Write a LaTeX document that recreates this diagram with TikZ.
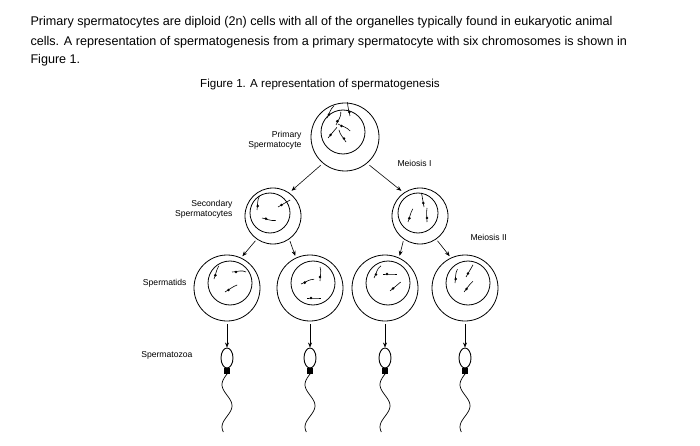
\documentclass[tikz,border=0pt]{standalone}
\usepackage{fontspec}
\setmainfont{Liberation Sans}
\usetikzlibrary{shapes.geometric,arrows.meta}
\begin{document}
\begin{tikzpicture}[x=1pt,y=-1pt,
 outer/.style={circle,draw,line width=0.8pt,inner sep=0},
 inner/.style={circle,draw,line width=0.8pt,inner sep=0,minimum size=#1},
 arr/.style={-{Stealth[length=5pt,width=4pt]},line width=0.6pt},
 lab/.style={font=\fontsize{8.6}{9.6}\selectfont,align=right},
 body/.style={font=\fontsize{12.6}{14}\selectfont,anchor=west},
 head/.style={ellipse,draw,line width=0.9pt,minimum width=12pt,minimum height=20pt,inner sep=0},
 chr/.style={line width=0.6pt}]
\useasboundingbox (0,0) rectangle (700,446);
\newcommand{\chro}[4]{\draw[chr] (#1,#2) .. controls +(#3:5) and +(#3+180+#4:5) .. +(#3:14); \fill (#1,#2)++(#3:4) circle (1.4);}
\node[body] (t1) at (27,22) {Primary spermatocytes are diploid (2n) cells with all of the organelles typically found in eukaryotic animal};
\node[body] (t2) at (27,42) {cells. A representation of spermatogenesis from a primary spermatocyte with six chromosomes is shown in};
\node[body] (t3) at (27,60) {Figure 1.};
\node[font=\fontsize{11.6}{13}\selectfont] (cap) at (320,85) {Figure 1. A representation of spermatogenesis};
% cells
\node[outer,minimum size=68pt] (p) at (345,137) {};
\node[inner=44pt] (pi) at (343,132) {};
\node[outer,minimum size=56pt] (sL) at (273,216) {};
\node[inner=40pt] (sLi) at (270,213) {};
\node[outer,minimum size=56pt] (sR) at (420,216) {};
\node[inner=40pt] (sRi) at (418,213) {};
\foreach \n/\xx in {a/227,b/310,c/385,d/465}{
 \node[outer,minimum size=66pt] (t\n) at (\xx,288) {};
 \node[inner=44pt] (t\n i) at (\xx+3,283) {};
 \node[head] (h\n) at (\xx,358) {};
 \node[fill,minimum width=6pt,minimum height=6pt,inner sep=0] (m\n) at (\xx,371) {};
 \draw[line width=0.7pt] plot[variable=\t,domain=0:58,smooth,samples=40] ({\xx-5*sin(\t*8.5)},{374+\t});
 \draw[arr] (t\n.south) ++(0,3) -- (h\n.north);
}
% chromosomes
\chro{327}{118}{-60}{20}\chro{336}{125}{-70}{-30}\chro{350}{116}{-100}{10}\chro{328}{138}{-50}{0}\chro{346}{142}{-120}{20}\chro{338}{124}{30}{20}
\chro{257}{210}{-80}{20}\chro{262}{218}{10}{-20}\chro{278}{207}{-30}{0}
\chro{408}{222}{-70}{10}\chro{424}{207}{-100}{0}\chro{427}{222}{-90}{10}
\chro{214}{279}{-70}{10}\chro{232}{272}{0}{30}\chro{225}{292}{-30}{10}
\chro{301}{284}{-20}{20}\chro{320}{281}{-90}{-20}\chro{307}{298}{0}{0}
\chro{374}{278}{-60}{30}\chro{383}{274}{0}{0}\chro{390}{291}{-40}{0}
\chro{455}{283}{-80}{20}\chro{466}{277}{-60}{0}\chro{464}{292}{-50}{10}
% arrows
\draw[arr,shorten <=3pt,shorten >=3pt] (p.-130) -- (sL.55);
\draw[arr,shorten <=3pt,shorten >=3pt] (p.-50) -- (sR.125);
\draw[arr,shorten <=2pt,shorten >=2pt] (sL.-125) -- (ta.65);
\draw[arr,shorten <=2pt,shorten >=2pt] (sL.-55) -- (tb.115);
\draw[arr,shorten <=2pt,shorten >=2pt] (sR.-125) -- (tc.65);
\draw[arr,shorten <=2pt,shorten >=2pt] (sR.-55) -- (td.115);
% labels
\node[lab,anchor=east] (lp) at (305,140) {Primary\\Spermatocyte};
\node[lab,anchor=west] (l1) at (394,163) {Meiosis I};
\node[lab,anchor=east] (ls) at (236,209) {Secondary\\Spermatocytes};
\node[lab,anchor=west] (l2) at (467,237) {Meiosis II};
\node[lab,anchor=east] (lt) at (190,283) {Spermatids};
\node[lab,anchor=east] (lz) at (196,355) {Spermatozoa};
\end{tikzpicture}
\end{document}
